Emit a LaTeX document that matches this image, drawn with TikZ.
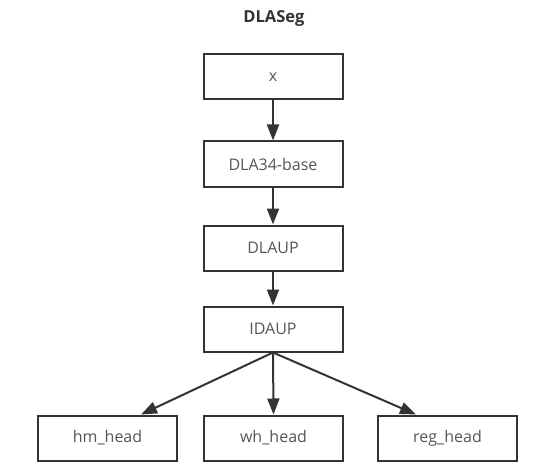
\documentclass[tikz,border=0pt]{standalone}
\usepackage{fontspec}
\setmainfont{Open Sans}
\usepackage{xcolor}
\usepackage{tikz}
\usetikzlibrary{arrows.meta,calc}

\definecolor{boxline}{HTML}{333333}
\definecolor{boxtext}{HTML}{555555}

\tikzset{
	block/.style={draw=boxline,line width=2pt,minimum width=139pt,minimum height=45pt,
		inner sep=0pt,text=boxtext,font=\fontsize{16}{19}\selectfont},
	flow/.style={draw=boxline,line width=2pt,-{Triangle[length=16pt,width=12pt]}}
}

\begin{document}
\begin{tikzpicture}[x=1pt,y=-1pt]
	\useasboundingbox (0,0) rectangle (554,476);
	\node[font=\bfseries\fontsize{16.5}{19}\selectfont,text=boxline] (title) at (274,19) {DLASeg};
	
	\node[block] (x) at (273,77) {x};
	\node[block] (base) at (273,164) {DLA34-base};
	\node[block] (dlaup) at (273,248) {DLAUP};
	\node[block] (idaup) at (273,329) {IDAUP};
	\node[block] (hm) at (107.5,438) {hm\_head};
	\node[block] (wh) at (273.5,438) {wh\_head};
	\node[block] (reg) at (447.5,438) {reg\_head};
	
	\coordinate (hmin) at ($(hm.north east)+(-37,0)$);
	\coordinate (regin) at ($(reg.north west)+(39,0)$);
	
	\draw[flow] (x)--(base);
	\draw[flow] (base)--(dlaup);
	\draw[flow] (dlaup)--(idaup);
	\draw[flow] (idaup.south)--(hmin);
	\draw[flow] (idaup.south)--(wh.north);
	\draw[flow] (idaup.south)--(regin);
\end{tikzpicture}
\end{document}
